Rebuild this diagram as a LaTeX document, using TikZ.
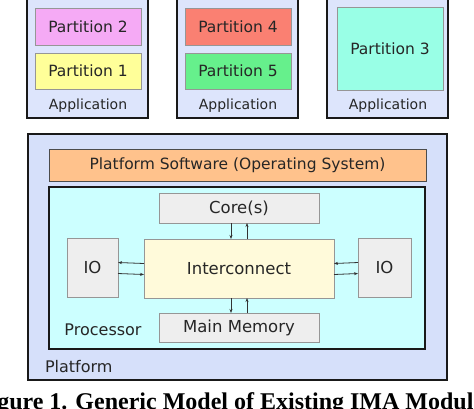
\documentclass[tikz,border=0pt]{standalone}
\usepackage{fontspec}
\setmainfont{DejaVu Sans}
\newfontfamily\captionfont{Liberation Serif}
\usepackage{tikz}
\usetikzlibrary{arrows.meta}

\definecolor{appbg}{RGB}{221,229,252}
\definecolor{platbg}{RGB}{214,224,250}
\definecolor{partpink}{RGB}{245,170,245}
\definecolor{partyellow}{RGB}{255,255,153}
\definecolor{partred}{RGB}{250,128,114}
\definecolor{partgreen}{RGB}{102,240,140}
\definecolor{partaqua}{RGB}{153,255,230}
\definecolor{swbg}{RGB}{255,194,140}
\definecolor{procbg}{RGB}{204,255,255}
\definecolor{unitbg}{RGB}{238,238,238}
\definecolor{unitline}{RGB}{150,150,150}
\definecolor{interbg}{RGB}{255,250,218}

\begin{document}
\begin{tikzpicture}[x=1pt, y=-1pt,
    every node/.style={inner sep=0pt, outer sep=0pt, text=black!85},
    outerbox/.style={draw=black!90, line width=1.6pt, rectangle},
    partbox/.style={draw=unitline, line width=0.8pt, rectangle, font=\fontsize{15.5}{18}\selectfont},
    unitbox/.style={draw=unitline, line width=0.8pt, fill=unitbg, rectangle, font=\fontsize{16.5}{19}\selectfont},
    lbl/.style={font=\fontsize{16}{19}\selectfont},
    link/.style={-{Stealth[length=4pt,width=3pt]}, line width=0.8pt, black!80}]
      \useasboundingbox (0,0) rectangle (474,408);

      % applications
      \node[outerbox, fill=appbg, minimum width=121pt, minimum height=119pt] (app1) at (87.5,58.5) {};
      \node[outerbox, fill=appbg, minimum width=121pt, minimum height=119pt] (app2) at (237.5,58.5) {};
      \node[outerbox, fill=appbg, minimum width=121pt, minimum height=119pt] (app3) at (387.5,58.5) {};

      \node[partbox, fill=partpink, minimum width=106pt, minimum height=37pt] (part2) at (88,26.5) {Partition 2};
      \node[partbox, fill=partyellow, minimum width=106pt, minimum height=36pt] (part1) at (88,71) {Partition 1};
      \node[partbox, fill=partred, minimum width=106pt, minimum height=37pt] (part4) at (238,26.5) {Partition 4};
      \node[partbox, fill=partgreen, minimum width=106pt, minimum height=36pt] (part5) at (238,71) {Partition 5};
      \node[partbox, fill=partaqua, minimum width=106pt, minimum height=83pt] (part3) at (390,48.5) {Partition 3};

      \node[font=\fontsize{14}{17}\selectfont] (appl1) at (88,106) {Application};
      \node[font=\fontsize{14}{17}\selectfont] (appl2) at (238,106) {Application};
      \node[font=\fontsize{14}{17}\selectfont] (appl3) at (388,106) {Application};

      % platform
      \node[outerbox, fill=platbg, minimum width=419pt, minimum height=246pt] (platform) at (237.5,257) {};
      \node[draw=black!70, line width=0.9pt, fill=swbg, minimum width=377pt, minimum height=32pt, font=\fontsize{15.5}{18}\selectfont] (software) at (237.5,165) {Platform Software (Operating System)};
      \node[outerbox, fill=procbg, minimum width=376pt, minimum height=162pt] (processor) at (237,268) {};

      \node[unitbox, minimum width=160pt, minimum height=30pt] (core) at (239,208) {Core(s)};
      \node[unitbox, fill=interbg, minimum width=190pt, minimum height=59pt] (inter) at (239,268.5) {Interconnect};
      \node[unitbox, minimum width=51pt, minimum height=59pt] (ioL) at (92.5,267.5) {IO};
      \node[unitbox, minimum width=53pt, minimum height=59pt] (ioR) at (384.5,267.5) {IO};
      \node[unitbox, minimum width=160pt, minimum height=29pt] (memory) at (239,327.5) {Main Memory};

      \node[lbl] (proclbl) at (103,330) {Processor};
      \node[lbl, anchor=west] (platlbl) at (45,367) {Platform};

      % links
      \draw[link] ([xshift=-8pt]core.south) -- ([xshift=-8pt]inter.north);
      \draw[link] ([xshift=8pt]inter.north) -- ([xshift=8pt]core.south);
      \draw[link] ([xshift=-8pt]inter.south) -- ([xshift=-8pt]memory.north);
      \draw[link] ([xshift=8pt]memory.north) -- ([xshift=8pt]inter.south);
      \draw[link] ([yshift=5pt]inter.west) -- ([yshift=5pt]ioL.east);
      \draw[link] ([yshift=-6pt]ioL.east) -- ([yshift=-6pt]inter.west);
      \draw[link] ([yshift=5pt]ioR.west) -- ([yshift=5pt]inter.east);
      \draw[link] ([yshift=-6pt]inter.east) -- ([yshift=-6pt]ioR.west);

      % caption, cut by the page edge
      \node[anchor=base, font=\captionfont\bfseries\fontsize{24}{28}\selectfont, text=black] (caption) at (230,409) {Figure 1. Generic Model of Existing IMA Module};
    \end{tikzpicture}
\end{document}
